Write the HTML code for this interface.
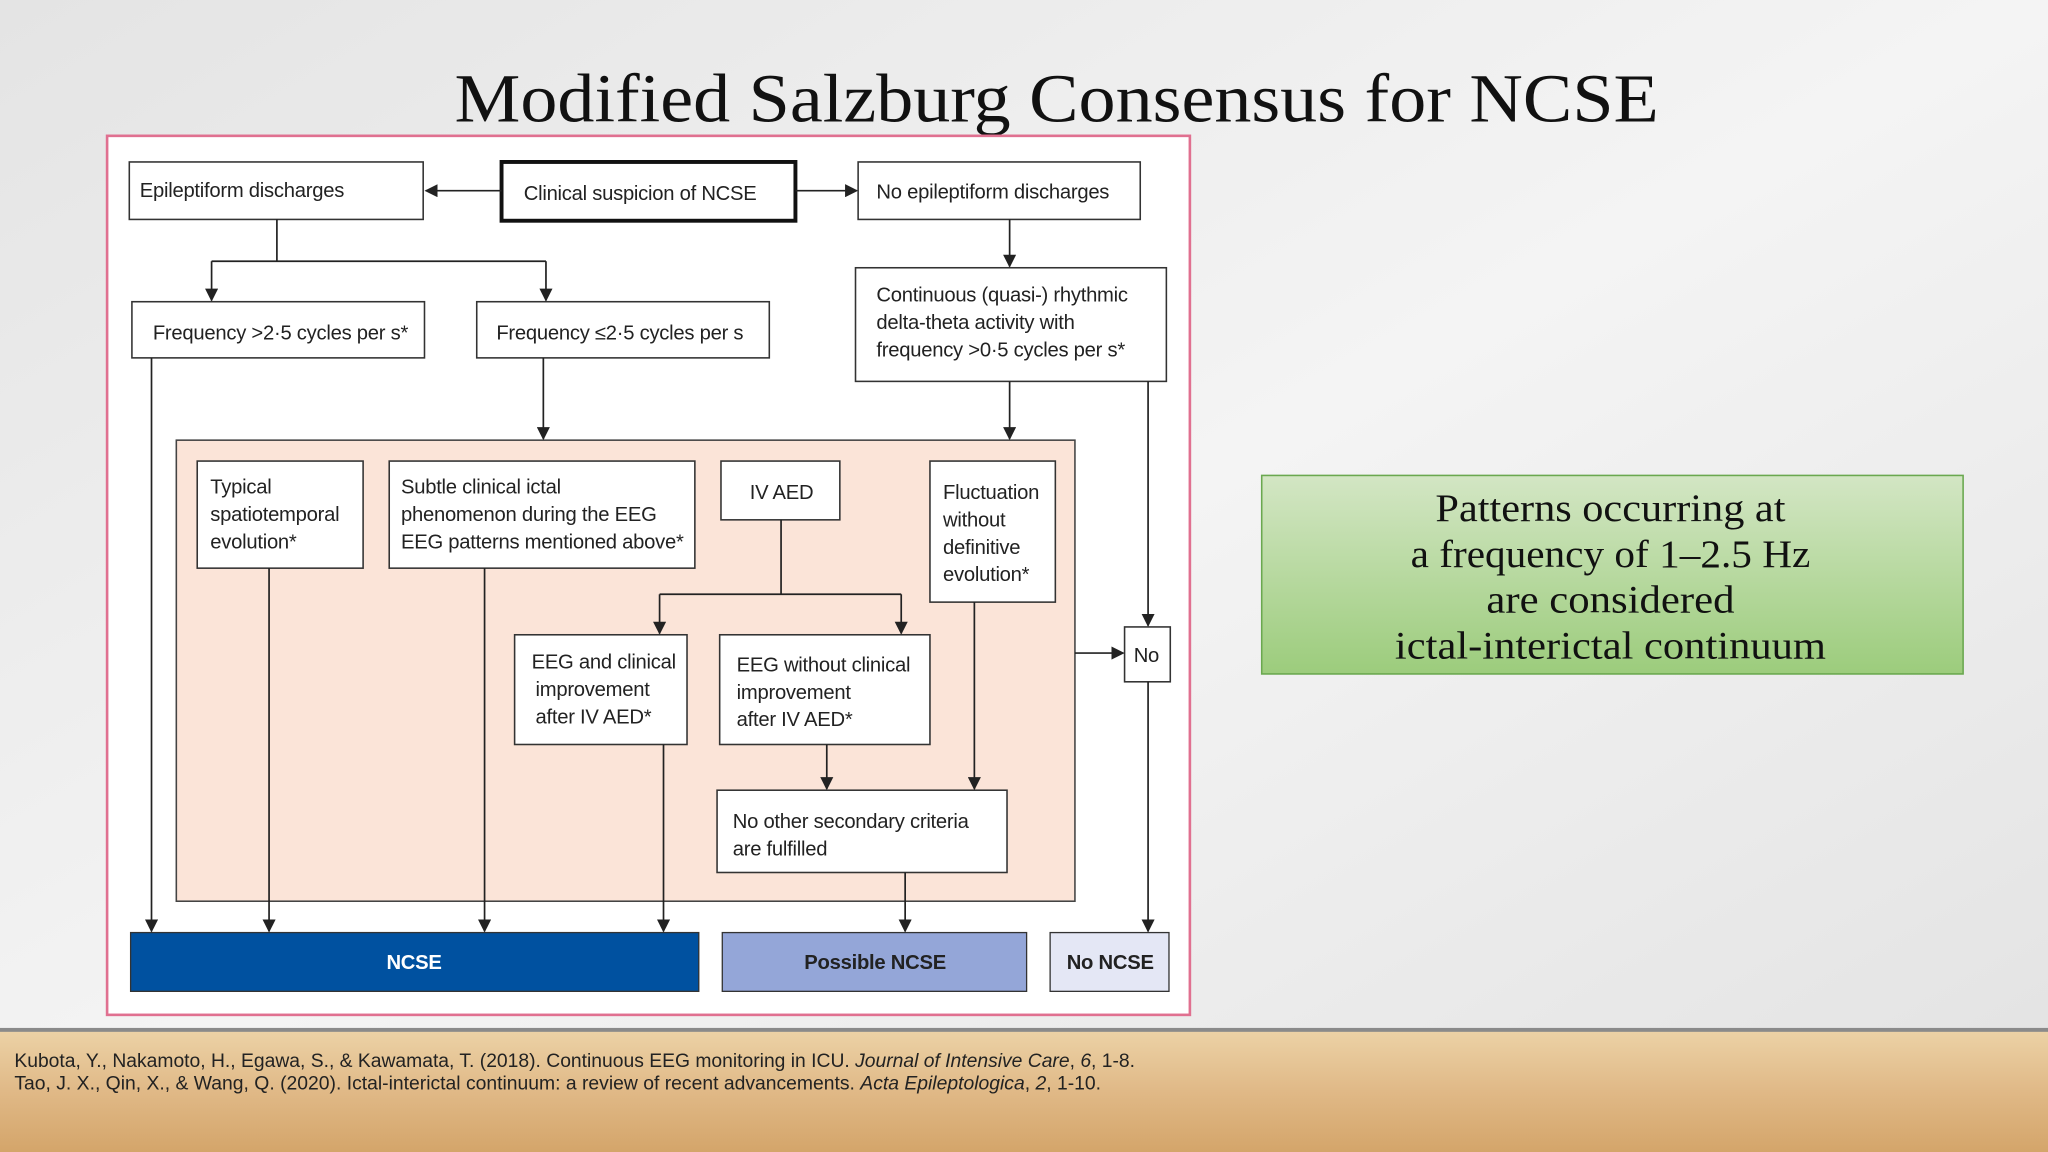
<!DOCTYPE html>
<html><head><meta charset="utf-8"><style>
html,body{margin:0;padding:0;width:2048px;height:1152px;overflow:hidden}
svg{display:block}
.t{font-family:"Liberation Sans",sans-serif;font-size:15.5px;fill:#222;letter-spacing:-0.2px}
</style></head><body>
<svg width="2048" height="1152" viewBox="0 0 1568 882" xmlns="http://www.w3.org/2000/svg">
<defs>
<linearGradient id="bg" x1="0" y1="0" x2="1" y2="1">
<stop offset="0" stop-color="#e4e4e4"/><stop offset="0.5" stop-color="#f4f4f4"/><stop offset="1" stop-color="#e2e2e2"/>
</linearGradient>
<linearGradient id="wood" x1="0" y1="0" x2="0" y2="1">
<stop offset="0" stop-color="#ecd2a6"/><stop offset="0.5" stop-color="#e0b987"/><stop offset="1" stop-color="#d4a56a"/>
</linearGradient>
<linearGradient id="gr" x1="0" y1="0" x2="0" y2="1">
<stop offset="0" stop-color="#d3e6c4"/><stop offset="1" stop-color="#9ccc7c"/>
</linearGradient>
<marker id="a" markerWidth="10" markerHeight="10" refX="9" refY="5" orient="auto" markerUnits="userSpaceOnUse">
<path d="M0,0 L10,5 L0,10 z" fill="#222"/></marker>
</defs>
<rect width="1568" height="882" fill="url(#bg)"/>
<rect y="789" width="1568" height="93" fill="url(#wood)"/>
<rect y="787" width="1568" height="3" fill="#8a8a8a"/>
<text x="348" y="93" textLength="922" lengthAdjust="spacingAndGlyphs" font-family="Liberation Serif,serif" font-size="53" fill="#111">Modified Salzburg Consensus for NCSE</text>

<rect x="82" y="104" width="829" height="673" fill="#fff" stroke="#e07090" stroke-width="2"/>
<rect x="135" y="337" width="688" height="353" fill="#fbe4d8" stroke="#444" stroke-width="1.2"/>

<g fill="#fff" stroke="#333" stroke-width="1.2">
<rect x="99" y="124" width="225" height="44"/>
<rect x="384" y="124" width="225" height="45" stroke="#111" stroke-width="3"/>
<rect x="657" y="124" width="216" height="44"/>
<rect x="101" y="231" width="224" height="43"/>
<rect x="365" y="231" width="224" height="43"/>
<rect x="655" y="205" width="238" height="87"/>
<rect x="861" y="480" width="35" height="42"/>
<rect x="151" y="353" width="127" height="82"/>
<rect x="298" y="353" width="234" height="82"/>
<rect x="552" y="353" width="91" height="45"/>
<rect x="712" y="353" width="96" height="108"/>
<rect x="394" y="486" width="132" height="84"/>
<rect x="551" y="486" width="161" height="84"/>
<rect x="549" y="605" width="222" height="63"/>
</g>
<rect x="100" y="714" width="435" height="45" fill="#0051a0" stroke="#333"/>
<rect x="553" y="714" width="233" height="45" fill="#94a6d8" stroke="#333"/>
<rect x="804" y="714" width="91" height="45" fill="#e4e7f5" stroke="#333"/>

<g stroke="#222" stroke-width="1.3" fill="none" marker-end="url(#a)">
<line x1="384" y1="146" x2="326" y2="146"/>
<line x1="609" y1="146" x2="656" y2="146"/>
<line x1="162" y1="200" x2="162" y2="230"/>
<line x1="418" y1="200" x2="418" y2="230"/>
<line x1="773" y1="168" x2="773" y2="204"/>
<line x1="416" y1="274" x2="416" y2="336"/>
<line x1="773" y1="292" x2="773" y2="336"/>
<line x1="879" y1="292" x2="879" y2="479"/>
<line x1="823" y1="500" x2="860" y2="500"/>
<line x1="505" y1="455" x2="505" y2="485"/>
<line x1="690" y1="455" x2="690" y2="485"/>
<line x1="633" y1="570" x2="633" y2="604"/>
<line x1="746" y1="461" x2="746" y2="604"/>
<line x1="116" y1="274" x2="116" y2="713"/>
<line x1="206" y1="435" x2="206" y2="713"/>
<line x1="371" y1="435" x2="371" y2="713"/>
<line x1="508" y1="570" x2="508" y2="713"/>
<line x1="693" y1="668" x2="693" y2="713"/>
<line x1="879" y1="522" x2="879" y2="713"/>
</g>
<g stroke="#222" stroke-width="1.3" fill="none">
<polyline points="212,168 212,200 162,200 418,200"/>
<polyline points="598,398 598,455 505,455 690,455"/>
</g>

<g class="t">
<text x="107" y="151">Epileptiform discharges</text>
<text x="401" y="153">Clinical suspicion of NCSE</text>
<text x="671" y="152">No epileptiform discharges</text>
<text x="117" y="260">Frequency &gt;2·5 cycles per s*</text>
<text x="380" y="260">Frequency ≤2·5 cycles per s</text>
<text x="671" y="231">Continuous (quasi-) rhythmic</text>
<text x="671" y="252">delta-theta activity with</text>
<text x="671" y="273">frequency &gt;0·5 cycles per s*</text>
<text x="868" y="507">No</text>
<text x="161" y="378">Typical</text>
<text x="161" y="399">spatiotemporal</text>
<text x="161" y="420">evolution*</text>
<text x="307" y="378">Subtle clinical ictal</text>
<text x="307" y="399">phenomenon during the EEG</text>
<text x="307" y="420">EEG patterns mentioned above*</text>
<text x="574" y="382">IV AED</text>
<text x="722" y="382">Fluctuation</text>
<text x="722" y="403">without</text>
<text x="722" y="424">definitive</text>
<text x="722" y="445">evolution*</text>
<text x="407" y="512">EEG and clinical</text>
<text x="410" y="533">improvement</text>
<text x="410" y="554">after IV AED*</text>
<text x="564" y="514">EEG without clinical</text>
<text x="564" y="535">improvement</text>
<text x="564" y="556">after IV AED*</text>
<text x="561" y="634">No other secondary criteria</text>
<text x="561" y="655">are fulfilled</text>
<text x="317" y="742" fill="#fff" font-weight="bold" text-anchor="middle">NCSE</text>
<text x="670" y="742" font-weight="bold" text-anchor="middle">Possible NCSE</text>
<text x="850" y="742" font-weight="bold" text-anchor="middle">No NCSE</text>
</g>

<rect x="966" y="364" width="537" height="152" fill="url(#gr)" stroke="#6aa84f" stroke-width="1.2"/>
<g font-family="Liberation Serif,serif" font-size="30" fill="#111" text-anchor="middle">
<text x="1233" y="399" textLength="268" lengthAdjust="spacingAndGlyphs">Patterns occurring at</text>
<text x="1233" y="434" textLength="306" lengthAdjust="spacingAndGlyphs">a frequency of 1–2.5 Hz</text>
<text x="1233" y="469" textLength="190" lengthAdjust="spacingAndGlyphs">are considered</text>
<text x="1233" y="504" textLength="330" lengthAdjust="spacingAndGlyphs">ictal-interictal continuum</text>
</g>

<g font-family="Liberation Sans,sans-serif" font-size="14.5" fill="#222">
<text x="11" y="817" textLength="858" lengthAdjust="spacingAndGlyphs">Kubota, Y., Nakamoto, H., Egawa, S., &amp; Kawamata, T. (2018). Continuous EEG monitoring in ICU. <tspan font-style="italic">Journal of Intensive Care</tspan>, <tspan font-style="italic">6</tspan>, 1-8.</text>
<text x="11" y="834" textLength="832" lengthAdjust="spacingAndGlyphs">Tao, J. X., Qin, X., &amp; Wang, Q. (2020). Ictal-interictal continuum: a review of recent advancements. <tspan font-style="italic">Acta Epileptologica</tspan>, <tspan font-style="italic">2</tspan>, 1-10.</text>
</g>
</svg>
</body></html>
